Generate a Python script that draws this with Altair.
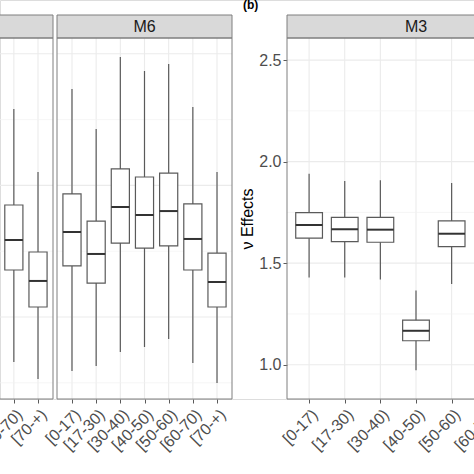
import json
import altair as alt
import pandas as pd

cats = ["[0-17)", "[17-30)", "[30-40)", "[40-50)", "[50-60)", "[60-70)", "[70-+)"]

# left panel (cut off by the crop): only its last two categories are visible
left_idx = [6, 7]
left_lo = [0.658, 0.529]
left_q1 = [1.357, 1.076]
left_med = [1.585, 1.274]
left_q3 = [1.851, 1.494]
left_hi = [2.581, 2.102]

# M6 panel
m6_idx = [1, 2, 3, 4, 5, 6, 7]
m6_lo = [0.590, 0.628, 0.734, 0.772, 0.833, 0.650, 0.498]
m6_q1 = [1.388, 1.258, 1.562, 1.524, 1.540, 1.357, 1.076]
m6_med = [1.646, 1.479, 1.836, 1.775, 1.805, 1.593, 1.266]
m6_q3 = [1.935, 1.729, 2.125, 2.064, 2.094, 1.859, 1.486]
m6_hi = [2.733, 2.429, 2.976, 2.869, 2.923, 2.596, 2.102]

# M3 panel (b) - the visible categories
m3_idx = [1, 2, 3, 4, 5]
m3_lo = [1.43, 1.43, 1.42, 0.972, 1.397]
m3_q1 = [1.623, 1.606, 1.603, 1.118, 1.581]
m3_med = [1.688, 1.667, 1.665, 1.167, 1.645]
m3_q3 = [1.749, 1.726, 1.726, 1.219, 1.708]
m3_hi = [1.94, 1.905, 1.908, 1.365, 1.895]

left_grid_major = [1.0, 2.0, 3.0]
left_grid_minor = [0.5, 1.5, 2.5]
m3_ticks = [1.0, 1.5, 2.0, 2.5]
m3_grid_minor = [1.25, 1.75, 2.25]

HALF = 0.375
FONT = "Liberation Sans"
FS = 16
TOP_STRIP, TOP_PANEL, BOTTOM = 15, 38, 399
GRID = "#EBEBEB"
BOXC = "#5A5A5A"
BORDER = "#7F7F7F"

label_expr = json.dumps(cats) + "[round(datum.value) - 1]"


def panel(idx, lo, q1, med, q3, hi, xdom, xrange, ydom, yrange,
          tick_vals, grid_major, grid_minor, yaxis):
    df = pd.DataFrame(dict(i=idx, lo=lo, q1=q1, med=med, q3=q3, hi=hi))
    df["l"] = df["i"] - HALF
    df["r"] = df["i"] + HALF
    xs = alt.Scale(domain=xdom, range=xrange, nice=False, zero=False)
    ys = alt.Scale(domain=ydom, range=yrange, nice=False, zero=False)
    xaxis = alt.Axis(orient="bottom", values=tick_vals, labelExpr=label_expr,
                     labelAngle=-45, labelFlush=False, labelOverlap=False,
                     labelFontSize=FS, labelColor="#4D4D4D", labelFont=FONT,
                     labelPadding=3, tickSize=4, tickColor=BOXC, tickWidth=1,
                     domain=False, grid=False, title=None)

    def X(f):
        return alt.X(f, type="quantitative", scale=xs, axis=xaxis, title=None)

    def Y(f):
        return alt.Y(f, type="quantitative", scale=ys, axis=yaxis, title=None)

    x0, x1 = xrange
    vgrid = alt.Chart(pd.DataFrame({"t": tick_vals})).mark_rule(
        color=GRID, strokeWidth=1.1).encode(
        x=X("t"), y=alt.value(TOP_PANEL), y2=alt.value(BOTTOM))
    hmaj = alt.Chart(pd.DataFrame({"g": grid_major})).mark_rule(
        color=GRID, strokeWidth=1.1).encode(
        y=Y("g"), x=alt.value(x0), x2=alt.value(x1))
    hmin = alt.Chart(pd.DataFrame({"g": grid_minor})).mark_rule(
        color="#F2F2F2", strokeWidth=0.7).encode(
        y=Y("g"), x=alt.value(x0), x2=alt.value(x1))
    base = alt.Chart(df)
    whisk = base.mark_rule(color=BOXC, strokeWidth=1.2).encode(
        x=X("i"), y=Y("lo"), y2="hi")
    box = base.mark_rect(fill="white", stroke=BOXC, strokeWidth=1.2).encode(
        x=X("l"), x2="r", y=Y("q1"), y2="q3")
    medl = base.mark_rule(color="#333333", strokeWidth=2).encode(
        x=X("l"), x2="r", y=Y("med"))
    return alt.layer(vgrid, hmaj, hmin, whisk, box, medl)


# pixel extents of the panels within the crop
LEFT_X = [0, 53]
M6_X = [57, 232]
M3_X = [287, 545]

left_y_dom = [0.377, 3.12]
m3_y_dom = [0.831, 2.609]
yrange = [BOTTOM, TOP_PANEL]

left_panel = panel(left_idx, left_lo, left_q1, left_med, left_q3, left_hi,
                   [5.427, 7.62], LEFT_X, left_y_dom, yrange, [6, 7],
                   left_grid_major, left_grid_minor, None)
m6_panel = panel(m6_idx, m6_lo, m6_q1, m6_med, m6_q3, m6_hi,
                 [0.38, 7.62], M6_X, left_y_dom, yrange, [1, 2, 3, 4, 5, 6, 7],
                 left_grid_major, left_grid_minor, None)
m3_axis = alt.Axis(orient="left", offset=-M3_X[0], values=m3_ticks, format=".1f",
                   labelFontSize=FS, labelColor="#4D4D4D", labelFont=FONT,
                   labelPadding=2, tickSize=4, tickColor=BOXC, tickWidth=1,
                   domain=False, grid=False, title="ν Effects",
                   titleFontSize=16, titleFont=FONT, titleFontWeight="normal",
                   titleColor="#000000", titlePadding=3)
m3_panel = panel(m3_idx, m3_lo, m3_q1, m3_med, m3_q3, m3_hi,
                 [0.38, 7.62], M3_X, m3_y_dom, yrange, [1, 2, 3, 4, 5, 6, 7],
                 m3_ticks, m3_grid_minor, m3_axis)

one = pd.DataFrame({"a": [0]})
decor = []
for (xa, xb), label in [((-5, LEFT_X[1]), ""), (M6_X, "M6"), ((M3_X[0], 600), "M3")]:
    decor.append(alt.Chart(one).mark_rect(fill="#D9D9D9", stroke=BORDER, strokeWidth=1).encode(
        x=alt.value(xa), x2=alt.value(xb), y=alt.value(TOP_STRIP), y2=alt.value(TOP_PANEL)))
    decor.append(alt.Chart(one).mark_rect(fillOpacity=0, stroke=BORDER, strokeWidth=1).encode(
        x=alt.value(xa), x2=alt.value(xb), y=alt.value(TOP_PANEL), y2=alt.value(BOTTOM)))
    if label:
        xc = (M6_X[0] + M6_X[1]) / 2 if label == "M6" else (M3_X[0] + M3_X[1]) / 2
        decor.append(alt.Chart(one).mark_text(font=FONT, fontSize=FS, color="#1A1A1A",
                                              baseline="middle", align="center").encode(
            x=alt.value(xc), y=alt.value((TOP_STRIP + TOP_PANEL) / 2 + 0.5), text=alt.value(label)))
decor.append(alt.Chart(one).mark_text(font=FONT, fontSize=12, fontWeight="bold", color="#000000",
                                      baseline="top", align="left").encode(
    x=alt.value(243), y=alt.value(0), text=alt.value("(b)")))

chart = alt.layer(left_panel, m6_panel, m3_panel, *decor).resolve_scale(
    x="independent", y="independent"
).properties(
    width=474, height=BOTTOM,
    padding={"left": 0, "top": 0, "right": 0, "bottom": 474 - BOTTOM},
    autosize=alt.AutoSizeParams(type="none"),
    background="white",
).configure_view(strokeWidth=0).configure(font=FONT)

chart.save("out.html", embed_options={"renderer": "svg", "actions": False})
